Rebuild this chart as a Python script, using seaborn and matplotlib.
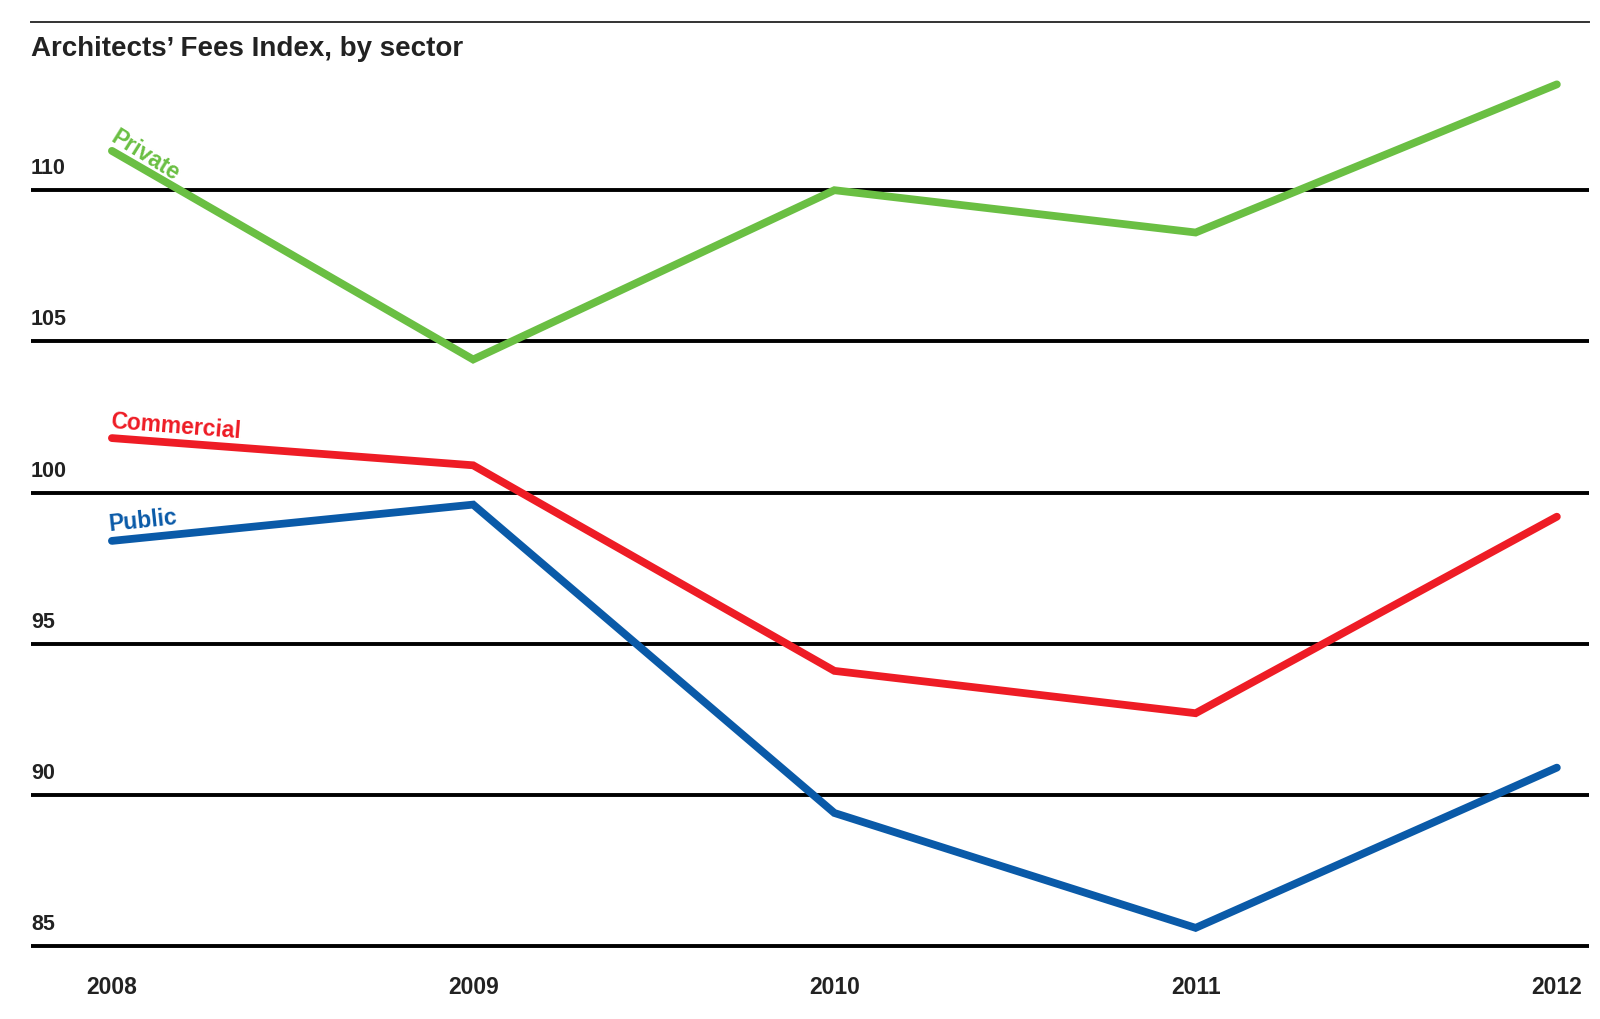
import numpy as np
import pandas as pd
import matplotlib.pyplot as plt
import seaborn as sns

# Values
years = [2008, 2009, 2010, 2011, 2012]
private = [111.3, 104.4, 110.0, 108.6, 113.5]
commercial = [101.8, 100.9, 94.1, 92.7, 99.2]
public = [98.4, 99.6, 89.4, 85.6, 90.9]
y_ticks = [85, 90, 95, 100, 105, 110]

sectors = ["Private", "Commercial", "Public"]
colors = {"Private": "#6abf43", "Commercial": "#ee1c25", "Public": "#0a5aa8"}
# label rotation (degrees) for the in-line sector labels
label_rot = {"Private": -32, "Commercial": -4.5, "Public": 6}

df = pd.DataFrame({
    "year": years * 3,
    "index": private + commercial + public,
    "sector": ["Private"] * 5 + ["Commercial"] * 5 + ["Public"] * 5,
})

sns.set_theme(style="white")
plt.rcParams["font.family"] = ["Liberation Sans", "DejaVu Sans"]

fig = plt.figure(figsize=(16, 10.19), dpi=100)
ax = fig.add_axes([31 / 1600, 1 - 950 / 1019, 1558 / 1600, (950 - 22) / 1019])

sns.lineplot(data=df, x="year", y="index", hue="sector", hue_order=["Public", "Commercial", "Private"],
             palette=colors, linewidth=5.6, legend=False, ax=ax,
             solid_capstyle="round", solid_joinstyle="miter")

ax.set_xlim(2007.776, 2012.089)
ax.set_ylim(84.868, 115.563)

# horizontal rules
ax.set_yticks(y_ticks)
ax.yaxis.grid(True, color="black", linewidth=2.8)
ax.set_axisbelow(True)
ax.tick_params(axis="y", left=False, labelleft=False)
for side in ["left", "right", "bottom"]:
    ax.spines[side].set_visible(False)
ax.spines["top"].set_color("#333333")
ax.spines["top"].set_linewidth(1.4)

# y labels sit above each rule, flush left
for v in y_ticks:
    ax.annotate(str(v), xy=(0, v), xycoords=("axes fraction", "data"),
                xytext=(0, 11.5), textcoords="offset points",
                ha="left", va="baseline", fontsize=15.5, fontweight="bold",
                color="#222222")

ax.set_xticks(years)
ax.set_xticklabels([str(y) for y in years], fontsize=16.5, fontweight="bold", color="#222222")
ax.tick_params(axis="x", length=0, pad=19)
ax.set_xlabel("")
ax.set_ylabel("")

# sector labels along the start of each line
series = {"Private": private, "Commercial": commercial, "Public": public}
for name in sectors:
    ax.annotate(name, xy=(years[0], series[name][0]), xytext=(-1.5, 7),
                textcoords="offset points", rotation=label_rot[name],
                rotation_mode="anchor", ha="left", va="baseline",
                fontsize=16.5, fontweight="bold", color=colors[name])

fig.text(31 / 1600, 1 - 56 / 1019, "Architects\u2019 Fees Index, by sector",
         ha="left", va="baseline", fontsize=20, fontweight="bold", color="#222222")

fig.savefig("out.png", dpi=100)
